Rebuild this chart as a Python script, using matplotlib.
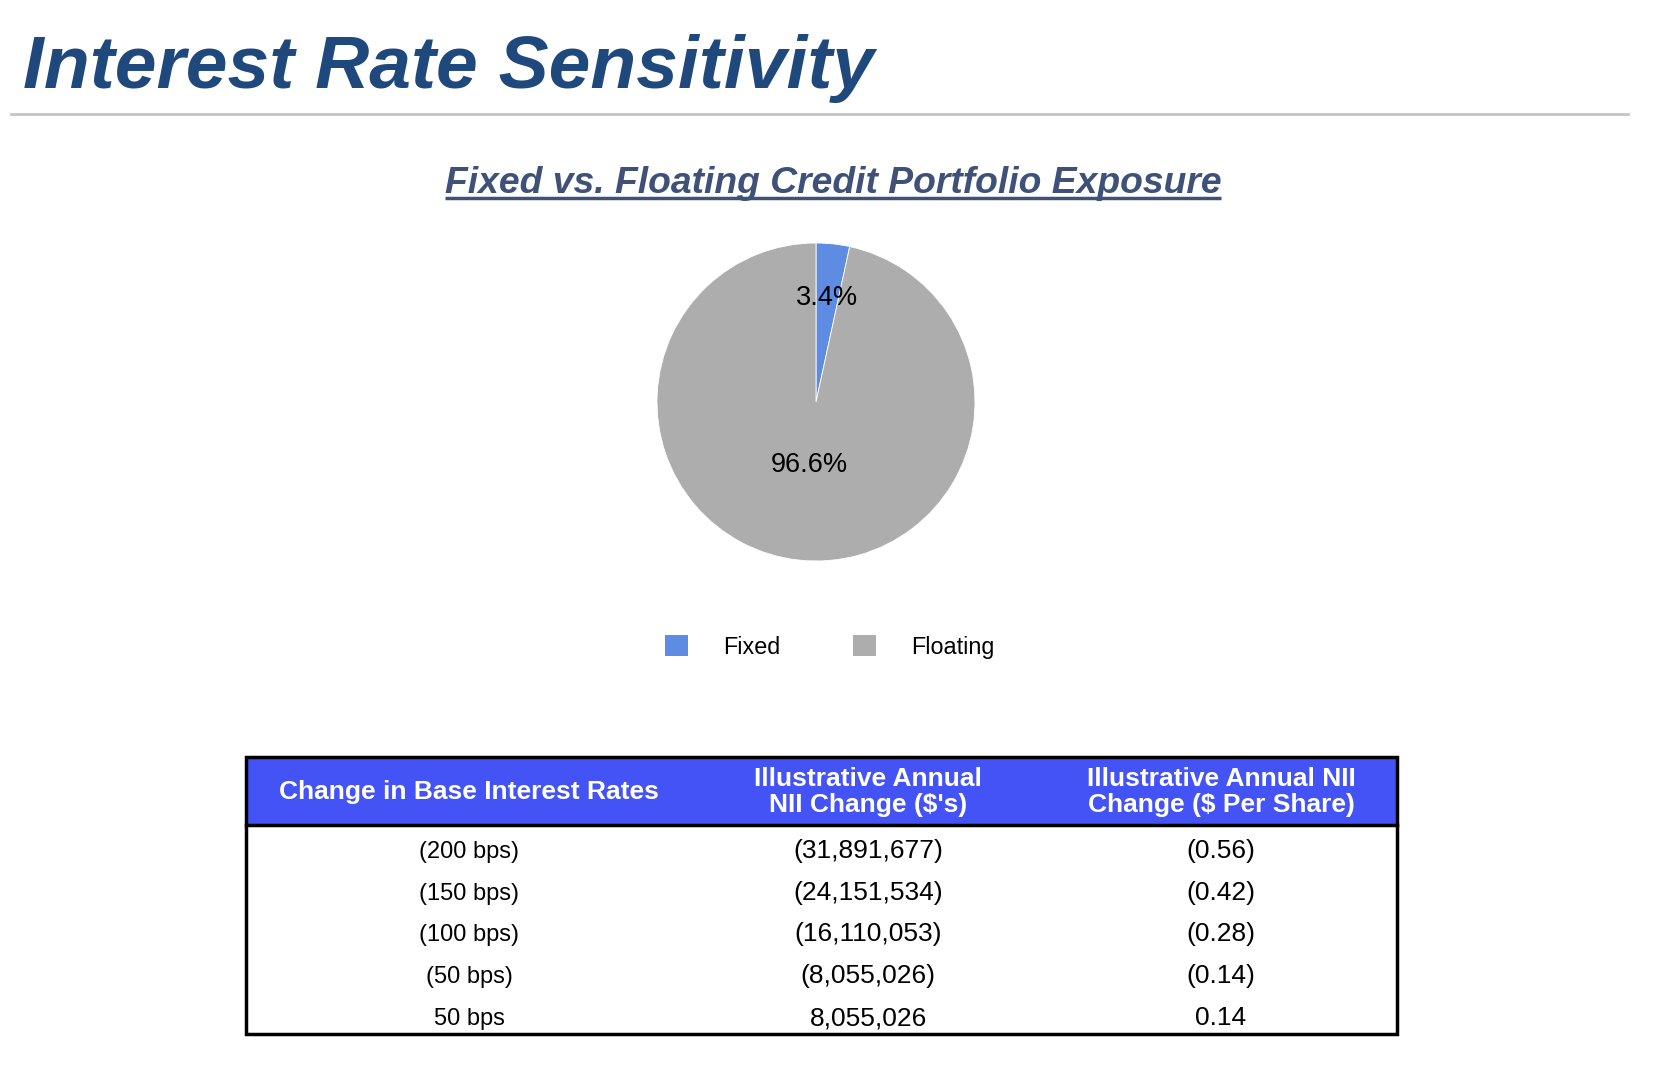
import matplotlib.pyplot as plt
from matplotlib.patches import Rectangle
import numpy as np

plt.rcParams['font.family'] = ['Liberation Sans', 'DejaVu Sans']

# data
title = "Interest Rate Sensitivity"
subtitle = "Fixed vs. Floating Credit Portfolio Exposure"
slice_labels = ["Fixed", "Floating"]
slice_shares = [3.4, 96.6]
slice_colors = ["#5E8CE3", "#ADADAD"]

table_header = ["Change in Base Interest Rates",
                "Illustrative Annual\nNII Change ($'s)",
                "Illustrative Annual NII\nChange ($ Per Share)"]
rate_moves_bps = [-200, -150, -100, -50, 50]
nii_change = [-31891677, -24151534, -16110053, -8055026, 8055026]
nii_per_share = [-0.56, -0.42, -0.28, -0.14, 0.14]


def paren(v, fmt):
    s = format(abs(v), fmt)
    return "(" + s + ")" if v < 0 else s


# layout (pixels)
W, H = 1660, 1070
fig = plt.figure(figsize=(W / 100, H / 100), dpi=100)
bg = fig.add_axes([0, 0, 1, 1])
bg.set_xlim(0, W)
bg.set_ylim(H, 0)
bg.axis('off')

bg.text(23, 88, title, fontsize=54, fontweight='bold', fontstyle='italic',
        color='#1F497D', ha='left', va='baseline')
bg.plot([11, 1628], [114, 114], color='#C4C4C4', lw=2)

sub_color = '#3F5178'
st = bg.text(833, 193, subtitle, fontsize=26.8, fontweight='bold', fontstyle='italic',
             color=sub_color, ha='center', va='baseline')
fig.canvas.draw()
bb = st.get_window_extent()
(ux0, _), (ux1, _) = bg.transData.inverted().transform([[bb.x0, 0], [bb.x1, 0]])
bg.plot([ux0, ux1], [198, 198], color=sub_color, lw=2.5, solid_capstyle='butt')

# pie
cx, cy, r = 816, 402, 159
pax = fig.add_axes([(cx - r) / W, (H - cy - r) / H, 2 * r / W, 2 * r / H])
wedges, _, autotexts = pax.pie(slice_shares, colors=slice_colors, startangle=90,
                               counterclock=False, autopct='%1.1f%%',
                               wedgeprops=dict(edgecolor='white', linewidth=0.6),
                               textprops=dict(fontsize=19.5, color='black'))
for w, t, d in zip(wedges, autotexts, [0.655, 0.40]):
    ang = np.deg2rad((w.theta1 + w.theta2) / 2)
    t.set_position((d * np.cos(ang), d * np.sin(ang)))
pax.set_xlim(-1, 1)
pax.set_ylim(-1, 1)
pax.set_aspect('equal')
pax.axis('off')

handles = [Rectangle((0, 0), 1, 1, facecolor=c, edgecolor='none') for c in slice_colors]
fig.legend(handles, slice_labels, loc='center left', bbox_to_anchor=(665 / W, 1 - 647 / H),
           ncol=2, frameon=False, fontsize=16.8, handlelength=1.0, handleheight=1.0,
           handletextpad=1.5, columnspacing=3.1, borderpad=0, borderaxespad=0)

# table
tx0, tx1, ty0, thead, ty1 = 246, 1397, 757, 825, 1034
col_x = [469, 868, 1221]
bg.add_patch(Rectangle((tx0, ty0), tx1 - tx0, thead - ty0, facecolor='#4353F6', edgecolor='none'))
bg.add_patch(Rectangle((tx0, ty0), tx1 - tx0, ty1 - ty0, facecolor='none', edgecolor='black', lw=2.5))
bg.plot([tx0, tx1], [thead, thead], color='black', lw=2.5)
for x, h in zip(col_x, table_header):
    bg.text(x, (ty0 + thead) / 2 + 1, h, ha='center', va='center', fontsize=19,
            fontweight='bold', color='white', linespacing=1.1)

row_h = (ty1 - thead) / len(rate_moves_bps)
for i, (b, n, p) in enumerate(zip(rate_moves_bps, nii_change, nii_per_share)):
    y = thead + (i + 0.5) * row_h + 5
    label = f"({abs(b)} bps)" if b < 0 else f"{b} bps"
    bg.text(col_x[0], y + 1, label, ha='center', va='center', fontsize=17)
    bg.text(col_x[1], y, paren(n, ',d'), ha='center', va='center', fontsize=19)
    bg.text(col_x[2], y, paren(p, '.2f'), ha='center', va='center', fontsize=19)

fig.savefig('out.png', dpi=100)
